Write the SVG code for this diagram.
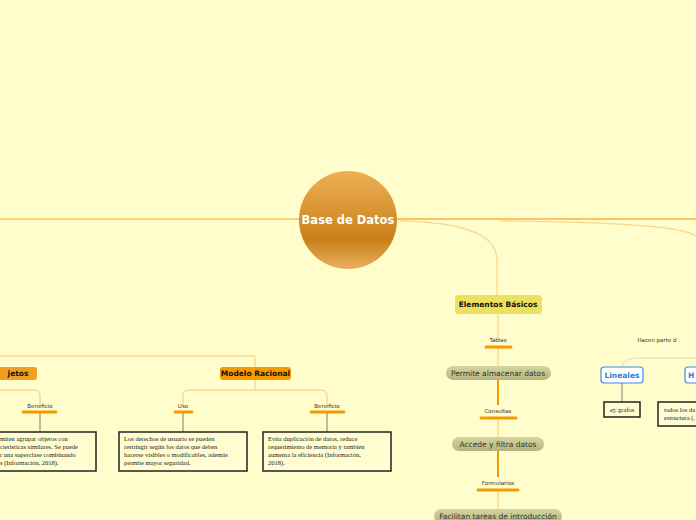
<svg xmlns="http://www.w3.org/2000/svg" width="696" height="520" viewBox="0 0 696 520">
<defs>
<linearGradient id="cg" x1="0" y1="0" x2="0" y2="1"><stop offset="0" stop-color="#eeb056"/><stop offset="0.7" stop-color="#c98019"/><stop offset="1" stop-color="#eab060"/></linearGradient>
<linearGradient id="pg" x1="0" y1="0" x2="0" y2="1"><stop offset="0" stop-color="#d6d6a2"/><stop offset="1" stop-color="#b4b47a"/></linearGradient>
<style>
.t{font-family:"DejaVu Sans",sans-serif;fill:#333}
.lab{font-family:"DejaVu Sans",sans-serif;font-size:5.5px;fill:#333;text-anchor:middle}
.pill{fill:url(#pg)}
.pt{font-family:"DejaVu Sans",sans-serif;font-size:7.5px;fill:#333;text-anchor:middle}
.bar{stroke:#f59a00;stroke-width:3;stroke-linecap:round}
.box{fill:#fffcd0;stroke:#222;stroke-width:1.5}
.bt{font-family:"Liberation Serif",serif;font-size:6.5px;fill:#222}
.thin{fill:none;stroke:#fcc870;stroke-width:1}
.thick{fill:none;stroke:#f59a00;stroke-width:2}
.gray{fill:none;stroke:#a8a890;stroke-width:1.5}
.ot{font-family:"DejaVu Sans",sans-serif;font-size:7.5px;font-weight:bold;fill:#111;text-anchor:middle}
</style>
</defs>
<rect width="696" height="520" fill="#fffdcc"/>
<g id="connectors">
<path d="M0 219H300" stroke="#f8b850" stroke-width="1.5" stroke-dasharray="1.5 0.5"/>
<path d="M396 219H696" stroke="#f8b040" stroke-width="1.5"/>
<path d="M400 221C450 222 497 230 497 260V295" fill="none" stroke="#f8c060" stroke-width="1.2" stroke-dasharray="1.2 0.6"/>
<path d="M500 221C600 222 680 225 696 236" fill="none" stroke="#f8c060" stroke-width="1.2" stroke-dasharray="1.2 0.6"/>
<path class="thin" d="M498 314V340M498 348V366M498 420V437M498 491V509"/>
<path class="thick" d="M498 380V405M498 451V477"/>
<path class="gray" d="M622 383V402"/>
<path d="M622 368C622 360 630 358 640 358H696" fill="none" stroke="#e8e4c8" stroke-width="1.5"/>
<path class="thin" d="M0 356H255V367"/>
<path class="thin" d="M255 380V390M183 406V396Q183 390 189 390H321Q327 390 327 396V406"/>
<path class="thin" d="M0 390H34Q40 390 40 396V406"/>
<path class="gray" d="M183 412V432M327 412V432M40 412V432" stroke-width="1"/>
</g>
<g id="center"><circle cx="348" cy="220" r="49" fill="url(#cg)"/><text x="348" y="224" font-family="'DejaVu Sans',sans-serif" font-size="11.5" font-weight="bold" fill="#fff" text-anchor="middle">Base de Datos</text></g>
<g id="elementos"><rect x="455" y="295" width="87" height="19" rx="4" fill="#ebe060"/><text class="ot" x="498" y="307">Elementos Básicos</text></g>
<g id="tablas"><text class="lab" x="498" y="342">Tablas</text><line class="bar" x1="486" y1="347" x2="511" y2="347"/></g>
<g id="almacenar"><rect class="pill" x="446" y="366" width="105" height="14" rx="7"/><text class="pt" x="498" y="375.5">Permite almacenar datos</text></g>
<g id="consultas"><text class="lab" x="498" y="413">Consultas</text><line class="bar" x1="481" y1="418" x2="516" y2="418"/></g>
<g id="accede"><rect class="pill" x="452" y="437" width="92" height="14" rx="7"/><text class="pt" x="498" y="446.5">Accede y filtra datos</text></g>
<g id="formularios"><text class="lab" x="498" y="485">Formularios</text><line class="bar" x1="478" y1="490" x2="518" y2="490"/></g>
<g id="facilitan"><rect class="pill" x="434" y="509" width="128" height="14" rx="7"/><text class="pt" x="498" y="518.5">Facilitan tareas de introducción</text></g>
<g id="hacen"><text class="lab" x="657" y="342" text-anchor="start">Hacen parte d</text></g>
<g id="lineales"><rect x="601" y="367" width="42" height="16" rx="3" fill="#fff" stroke="#3a8de0" stroke-width="1.2"/><text x="622" y="378" font-family="'DejaVu Sans',sans-serif" font-size="7.5" font-weight="bold" fill="#2a7ad8" text-anchor="middle">Lineales</text></g>
<g id="h"><rect x="685" y="367" width="30" height="16" rx="3" fill="#fff" stroke="#3a8de0" stroke-width="1.2"/><text x="688" y="378" font-family="'DejaVu Sans',sans-serif" font-size="7.5" font-weight="bold" fill="#2a7ad8">H</text></g>
<g id="grafos"><rect class="box" x="604" y="402" width="36" height="15"/><text class="bt" x="610" y="412">ej: grafos</text></g>
<g id="todos"><rect class="box" x="658" y="402" width="60" height="24"/><text class="bt" x="664" y="412">todos los da</text><text class="bt" x="664" y="420">estructura (.</text></g>
<g id="modelo"><rect x="220" y="367" width="71" height="13" rx="3" fill="#f59a00"/><text class="ot" x="255.5" y="376">Modelo Racional</text></g>
<g id="objetos"><rect x="-30" y="367" width="67" height="13" rx="3" fill="#f0a020"/><text class="ot" x="18" y="376">jetos</text></g>
<g id="uso"><text class="lab" x="183" y="408">Uso</text><line class="bar" x1="175" y1="412" x2="192" y2="412"/></g>
<g id="beneficio1"><text class="lab" x="327" y="408">Beneficio</text><line class="bar" x1="311" y1="412" x2="344" y2="412"/></g>
<g id="beneficio0"><text class="lab" x="40" y="408">Beneficio</text><line class="bar" x1="23" y1="412" x2="56" y2="412"/></g>
<g id="box0"><rect class="box" x="-10" y="432" width="106" height="39"/><text class="bt" x="0" y="441">miten agrupar objetos con</text><text class="bt" x="0" y="449">cterísticas similares. Se puede</text><text class="bt" x="0" y="457">r una superclase combinando</text><text class="bt" x="0" y="465">s (Información, 2018).</text></g>
<g id="box1"><rect class="box" x="119" y="432" width="128" height="39"/><text class="bt" x="124" y="441">Los derechos de usuario se pueden</text><text class="bt" x="124" y="449">restringir según los datos que deben</text><text class="bt" x="124" y="457">hacerse visibles o modificables, además</text><text class="bt" x="124" y="465">permite mayor seguridad.</text></g>
<g id="box2"><rect class="box" x="263" y="432" width="128" height="39"/><text class="bt" x="268" y="441">Evita duplicación de datos, reduce</text><text class="bt" x="268" y="449">requerimiento de memoria y también</text><text class="bt" x="268" y="457">aumenta la eficiencia (Información,</text><text class="bt" x="268" y="465">2018).</text></g>
</svg>
